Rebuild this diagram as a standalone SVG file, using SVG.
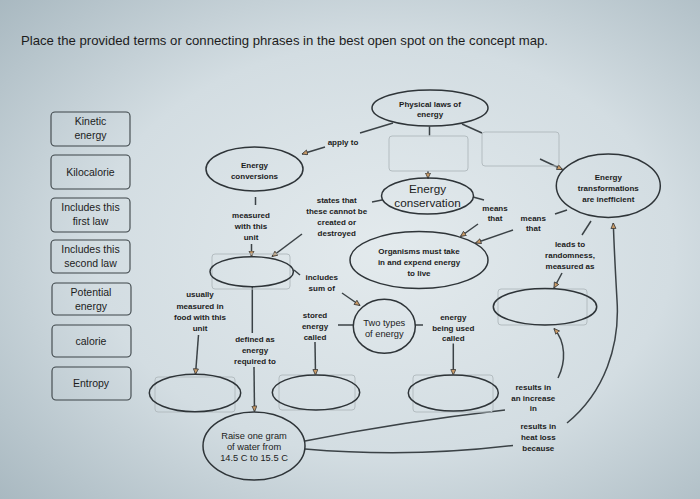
<svg xmlns="http://www.w3.org/2000/svg" width="700" height="499" viewBox="0 0 700 499">
<defs>
<radialGradient id="bg" cx="0.55" cy="0.5" r="0.75">
<stop offset="0" stop-color="#e3eaed"/>
<stop offset="0.55" stop-color="#d3dde2"/>
<stop offset="1" stop-color="#a8b8c0"/>
</radialGradient>
<marker id="ah" markerUnits="userSpaceOnUse" markerWidth="9" markerHeight="9" refX="6" refY="3" orient="auto">
<path d="M0.5,0.5 L6,3 L0.5,5.5 Z" fill="#c99a66" stroke="#3a3a3a" stroke-width="0.8"/>
</marker>
<style>
.t{font-family:"Liberation Sans",Arial,sans-serif;fill:#1c1c1c}
.title{font-size:13.3px}
.box{fill:none;stroke:#3c4448;stroke-width:1.1}
.bt{font-size:10.5px;text-anchor:middle}
.lb{font-size:8px;font-weight:bold;text-anchor:middle}
.nt{font-size:9.3px;text-anchor:middle}
.el{fill:none;stroke:#2e3438;stroke-width:1.5}
.slot{fill:none;stroke:#b3bcc0;stroke-width:1}
.c{fill:none;stroke:#3b4246;stroke-width:1.5}
.a{marker-end:url(#ah)}
</style>
</defs>
<rect x="0" y="0" width="700" height="499" fill="url(#bg)"/>
<text class="t title" x="21" y="45" textLength="527" lengthAdjust="spacingAndGlyphs">Place the provided terms or connecting phrases in the best open spot on the concept map.</text>

<g id="term-kinetic"><rect class="box" x="51" y="112" width="79" height="34" rx="4"/><text class="t bt" x="90.5" y="125">Kinetic</text><text class="t bt" x="90.5" y="139">energy</text></g>
<g id="term-kilocalorie"><rect class="box" x="51" y="155" width="79" height="34" rx="4"/><text class="t bt" x="90.5" y="175.5">Kilocalorie</text></g>
<g id="term-first-law"><rect class="box" x="51" y="198" width="79" height="34" rx="4"/><text class="t bt" x="90.5" y="211">Includes this</text><text class="t bt" x="90.5" y="224.5">first law</text></g>
<g id="term-second-law"><rect class="box" x="51" y="240" width="79" height="33" rx="4"/><text class="t bt" x="90.5" y="252.5">Includes this</text><text class="t bt" x="90.5" y="266.5">second law</text></g>
<g id="term-potential"><rect class="box" x="52" y="283" width="79" height="32" rx="4"/><text class="t bt" x="91" y="296">Potential</text><text class="t bt" x="91" y="309.5">energy</text></g>
<g id="term-calorie"><rect class="box" x="52" y="325" width="79" height="32" rx="4"/><text class="t bt" x="91" y="344.5">calorie</text></g>
<g id="term-entropy"><rect class="box" x="52" y="367" width="79" height="33" rx="4"/><text class="t bt" x="91" y="387">Entropy</text></g>

<g id="connectors">
<line class="c" x1="393" y1="123" x2="360" y2="133"/>
<line class="c a" x1="325" y1="147" x2="302" y2="154"/>
<line class="c" x1="429.5" y1="126.5" x2="429.5" y2="135.5"/>
<line class="c a" x1="428" y1="171" x2="428" y2="178.5"/>
<line class="c" x1="462" y1="124" x2="482" y2="133"/>
<line class="c a" x1="540" y1="159" x2="562.5" y2="169.5"/>
<line class="c" x1="382" y1="200" x2="372" y2="202"/>
<line class="c a" x1="302" y1="234" x2="272" y2="256.5"/>
<line class="c" x1="473" y1="197" x2="484" y2="200"/>
<line class="c a" x1="478" y1="224" x2="460.5" y2="236.5"/>
<line class="c" x1="567" y1="210" x2="555" y2="214"/>
<line class="c a" x1="513" y1="230" x2="475.5" y2="243"/>
<line class="c" x1="591" y1="221" x2="582" y2="235"/>
<line class="c a" x1="562" y1="273" x2="554" y2="288"/>
<line class="c" x1="255.5" y1="197" x2="255.5" y2="205"/>
<line class="c a" x1="251.5" y1="244" x2="251.5" y2="256.5"/>
<line class="c" x1="294" y1="270" x2="300" y2="275"/>
<line class="c a" x1="342" y1="293" x2="360" y2="305.5"/>
<line class="c" x1="353" y1="325" x2="338" y2="325"/>
<line class="c a" x1="315" y1="342" x2="315.5" y2="375"/>
<line class="c" x1="415" y1="325" x2="423" y2="325"/>
<line class="c a" x1="453.3" y1="343.5" x2="453.3" y2="375"/>
<line class="c" x1="252.3" y1="286.5" x2="252.3" y2="333"/>
<line class="c a" x1="254" y1="367" x2="254.5" y2="411.5"/>
<line class="c a" x1="198.5" y1="335" x2="195.5" y2="374.3"/>
<path class="c" d="M305,441 Q400,422 505,410"/>
<path class="c a" d="M558,378 C566,362 566,342 554,328.5"/>
<path class="c" d="M305,449 Q410,458 513,445.5"/>
<path class="c a" d="M567,423 C605,392 620,345 617,300 C615,265 614,245 613.3,223"/>
</g>

<g id="node-physical-laws"><ellipse class="el" cx="430" cy="108" rx="58" ry="18"/><text class="t lb" x="430" y="107">Physical laws of</text><text class="t lb" x="430" y="117.3">energy</text></g>
<g id="slot-1"><rect class="slot" x="389" y="136" width="79" height="35" rx="3"/></g>
<g id="slot-2"><rect class="slot" x="482" y="132" width="77" height="34" rx="3"/></g>
<g id="label-apply-to"><text class="t lb" x="343" y="145">apply to</text></g>
<g id="node-energy-conversions"><ellipse class="el" cx="254.5" cy="169" rx="48.5" ry="22"/><text class="t lb" x="254.5" y="168">Energy</text><text class="t lb" x="254.5" y="179">conversions</text></g>
<g id="node-energy-conservation"><ellipse class="el" cx="427.5" cy="196" rx="46" ry="18"/><text class="t" x="427.5" y="192.5" font-size="11.7" text-anchor="middle">Energy</text><text class="t" x="427.5" y="206.5" font-size="11.7" text-anchor="middle">conservation</text></g>
<g id="node-energy-transformations"><ellipse class="el" cx="608.3" cy="185.7" rx="52" ry="31.7"/><text class="t lb" x="608.3" y="180">Energy</text><text class="t lb" x="608.3" y="191">transformations</text><text class="t lb" x="608.3" y="202">are inefficient</text></g>
<g id="label-states"><text class="t lb" x="336.7" y="203">states that</text><text class="t lb" x="336.7" y="214">these cannot be</text><text class="t lb" x="336.7" y="225">created or</text><text class="t lb" x="336.7" y="236">destroyed</text></g>
<g id="label-means-1"><text class="t lb" x="495" y="210.5">means</text><text class="t lb" x="495" y="221">that</text></g>
<g id="label-means-2"><text class="t lb" x="533.3" y="220.5">means</text><text class="t lb" x="533.3" y="231">that</text></g>
<g id="label-measured"><text class="t lb" x="251" y="218">measured</text><text class="t lb" x="251" y="229">with this</text><text class="t lb" x="251" y="240">unit</text></g>
<g id="node-organisms"><ellipse class="el" cx="419" cy="260" rx="69" ry="28.5"/><text class="t lb" x="419" y="253.5">Organisms must take</text><text class="t lb" x="419" y="265">in and expend energy</text><text class="t lb" x="419" y="276">to live</text></g>
<g id="label-leads-to"><text class="t lb" x="570" y="247">leads to</text><text class="t lb" x="570" y="258">randomness,</text><text class="t lb" x="570" y="269">measured as</text></g>
<g id="node-empty-a"><rect class="slot" x="212" y="254" width="78" height="35" rx="3"/><ellipse class="el" cx="251.7" cy="271.7" rx="41.7" ry="15"/></g>
<g id="label-includes"><text class="t lb" x="321.7" y="280">includes</text><text class="t lb" x="321.7" y="291">sum of</text></g>
<g id="node-two-types"><ellipse class="el" cx="384.3" cy="326.3" rx="31" ry="27"/><text class="t nt" x="384.3" y="325.5">Two types</text><text class="t nt" x="384.3" y="336.5">of energy</text></g>
<g id="label-stored"><text class="t lb" x="315" y="318">stored</text><text class="t lb" x="315" y="329">energy</text><text class="t lb" x="315" y="340">called</text></g>
<g id="label-being-used"><text class="t lb" x="453.3" y="319.5">energy</text><text class="t lb" x="453.3" y="330.5">being used</text><text class="t lb" x="453.3" y="341">called</text></g>
<g id="label-usually"><text class="t lb" x="200" y="297">usually</text><text class="t lb" x="200" y="308.5">measured in</text><text class="t lb" x="200" y="319.5">food with this</text><text class="t lb" x="200" y="331">unit</text></g>
<g id="label-defined"><text class="t lb" x="255" y="342">defined as</text><text class="t lb" x="255" y="353">energy</text><text class="t lb" x="255" y="364">required to</text></g>
<g id="node-empty-b"><rect class="slot" x="155" y="377" width="80" height="35" rx="3"/><ellipse class="el" cx="195" cy="393" rx="45.7" ry="18.7"/></g>
<g id="node-empty-c"><rect class="slot" x="279" y="375" width="76" height="35" rx="3"/><ellipse class="el" cx="316" cy="392.5" rx="43.7" ry="17.5"/></g>
<g id="node-empty-d"><rect class="slot" x="413" y="375" width="80" height="37" rx="3"/><ellipse class="el" cx="453.3" cy="393" rx="45" ry="18"/></g>
<g id="node-empty-e"><rect class="slot" x="498" y="289" width="89" height="36" rx="3"/><ellipse class="el" cx="545" cy="306.7" rx="51.7" ry="18.3"/></g>
<g id="label-increase"><text class="t lb" x="533.3" y="389.5">results in</text><text class="t lb" x="533.3" y="400.5">an increase</text><text class="t lb" x="533.3" y="411">in</text></g>
<g id="label-heat-loss"><text class="t lb" x="538.3" y="428.5">results in</text><text class="t lb" x="538.3" y="439.5">heat loss</text><text class="t lb" x="538.3" y="450.5">because</text></g>
<g id="node-raise"><ellipse class="el" cx="254" cy="446" rx="51" ry="34"/><text class="t nt" x="254" y="439.3">Raise one gram</text><text class="t nt" x="254" y="450">of water from</text><text class="t nt" x="254" y="461">14.5 C to 15.5 C</text></g>
</svg>
